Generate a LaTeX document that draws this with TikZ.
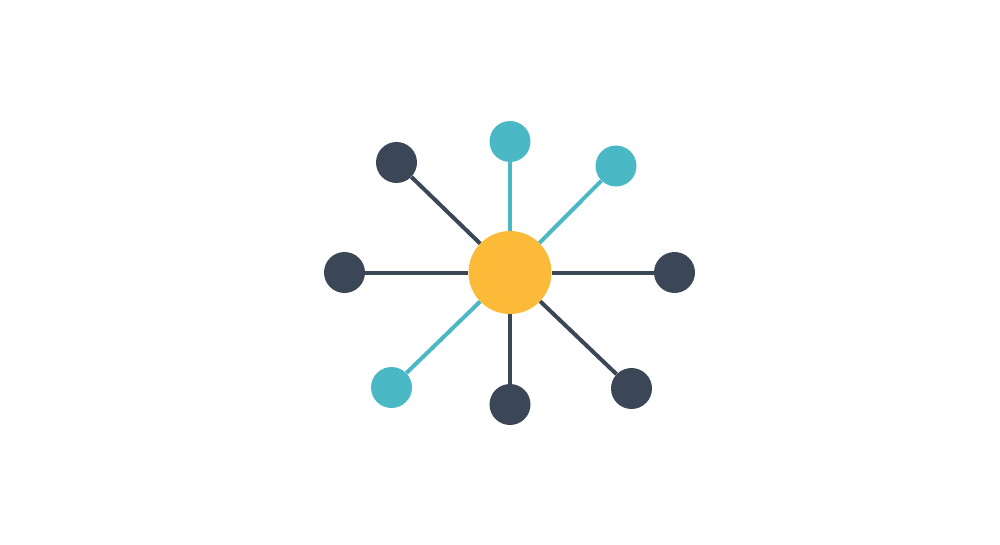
\documentclass[tikz,border=0pt]{standalone}
\definecolor{darknode}{HTML}{3B4756}
\definecolor{tealnode}{HTML}{4AB8C5}
\definecolor{hubyellow}{HTML}{FBBA38}
\tikzset{
  hub/.style={circle, fill=hubyellow, minimum size=83pt, inner sep=0pt},
  darksat/.style={circle, fill=darknode, minimum size=41pt, inner sep=0pt},
  tealsat/.style={circle, fill=tealnode, minimum size=41pt, inner sep=0pt},
  darkedge/.style={draw=darknode, line width=4pt},
  tealedge/.style={draw=tealnode, line width=4pt}
}
\begin{document}
\begin{tikzpicture}[x=1pt,y=-1pt]
\fill[white] (0,0) rectangle (1000,545);
\useasboundingbox (0,0) rectangle (1000,545);
\node[hub] (c) at (510,272.5) {};
\node[tealsat] (t) at (510,141.5) {};
\node[tealsat] (tr) at (616,166) {};
\node[darksat] (tl) at (396.5,162.5) {};
\node[darksat] (l) at (344.5,272.5) {};
\node[darksat] (r) at (674.5,272.5) {};
\node[tealsat] (bl) at (391.5,387.5) {};
\node[darksat] (b) at (510,404.5) {};
\node[darksat] (br) at (631.5,388.5) {};
\path[tealedge] (c) -- (t);
\path[tealedge] (c) -- (tr);
\path[tealedge] (c) -- (bl);
\path[darkedge] (c) -- (tl);
\path[darkedge] (c) -- (l);
\path[darkedge] (c) -- (r);
\path[darkedge] (c) -- (b);
\path[darkedge] (c) -- (br);
\end{tikzpicture}
\end{document}
